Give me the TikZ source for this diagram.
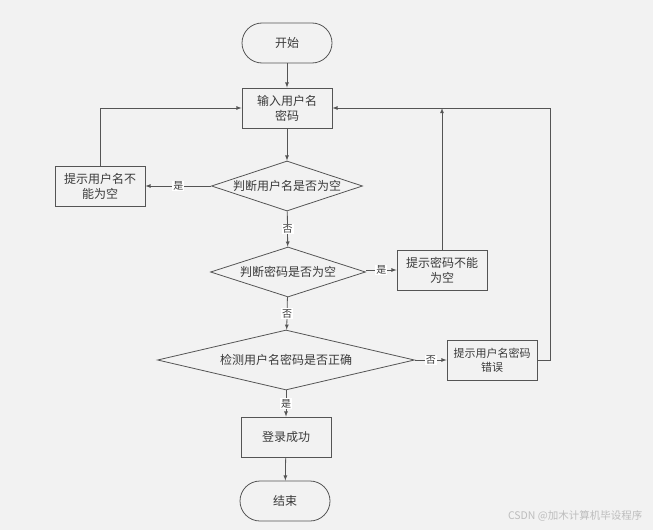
\documentclass[tikz,border=0pt]{standalone}
\usepackage{fontspec}
\newfontfamily\cjk{Noto Sans CJK SC}
\usepackage{tikz}
\usetikzlibrary{shapes.geometric}
\definecolor{bggray}{HTML}{F2F2F2}
\definecolor{linegray}{HTML}{555555}
\definecolor{textgray}{HTML}{3A3A3A}
\definecolor{markgray}{HTML}{BDBDBD}

\begin{document}
\begin{tikzpicture}[x=1pt, y=-1pt, >=latex, line width=0.8pt, color=linegray,
		font=\cjk\fontsize{12}{15}\selectfont, text=textgray,
		term/.style={draw=linegray, fill=bggray, rounded corners=20pt, minimum width=90pt, minimum height=40pt},
		procbox/.style={draw=linegray, fill=bggray, rectangle, align=center, minimum width=90pt, minimum height=40pt, inner sep=2pt},
		decision/.style={draw=linegray, fill=bggray, diamond, aspect=3, inner sep=0pt},
		lbl/.style={fill=white, inner sep=1pt, font=\cjk\fontsize{10}{12}\selectfont}]
			\fill[bggray] (0,0) rectangle (653,530);
			\useasboundingbox (0,0) rectangle (653,530);
			
			\node[term] (start) at (287,43) {开始};
			\node[procbox] (input) at (287,108) {输入用户名\\密码};
			\node[decision, minimum width=151pt, minimum height=50pt] (chkuser) at (287,186) {判断用户名是否为空};
			\node[procbox] (userempty) at (100,186) {提示用户名不\\能为空};
			\node[decision, minimum width=155pt, minimum height=50pt] (chkpwd) at (288,272) {判断密码是否为空};
			\node[procbox] (pwdempty) at (442,270) {提示密码不能\\为空};
			\node[decision, minimum width=257pt, minimum height=60pt] (chkall) at (286,360) {检测用户名密码是否正确};
			\node[procbox, font=\cjk\fontsize{11}{14}\selectfont] (wrong) at (492,360) {提示用户名密码\\错误};
			\node[procbox] (ok) at (286,437) {登录成功};
			\node[term] (stop) at (285,501) {结束};
			\node[text=markgray, font=\cjk\fontsize{10.5}{12}\selectfont, anchor=east] (watermark) at (646,516) {CSDN @加木计算机毕设程序};
			
			\draw[->] (start) to (input);
			\draw[->] (input) to (chkuser);
			\draw[->] (chkuser.west) to node[lbl] {是} (userempty.east);
			\draw[->] (userempty.north) |- (input.west);
			\draw[->] (chkuser) to node[lbl] {否} (chkpwd);
			\draw[->] (chkpwd.east |- pwdempty.west) to node[lbl] {是} (pwdempty.west);
			\draw[->] (pwdempty.north) to (pwdempty.north |- input.east);
			\draw[->] (chkpwd) to node[lbl] {否} (chkall);
			\draw[->] (chkall.east) to node[lbl] {否} (wrong.west);
			\draw[->] (wrong.east) -- ++(13,0) |- (input.east);
			\draw[->] (chkall) to node[lbl] {是} (ok);
			\draw[->] (ok) to (stop);
		\end{tikzpicture}
\end{document}
